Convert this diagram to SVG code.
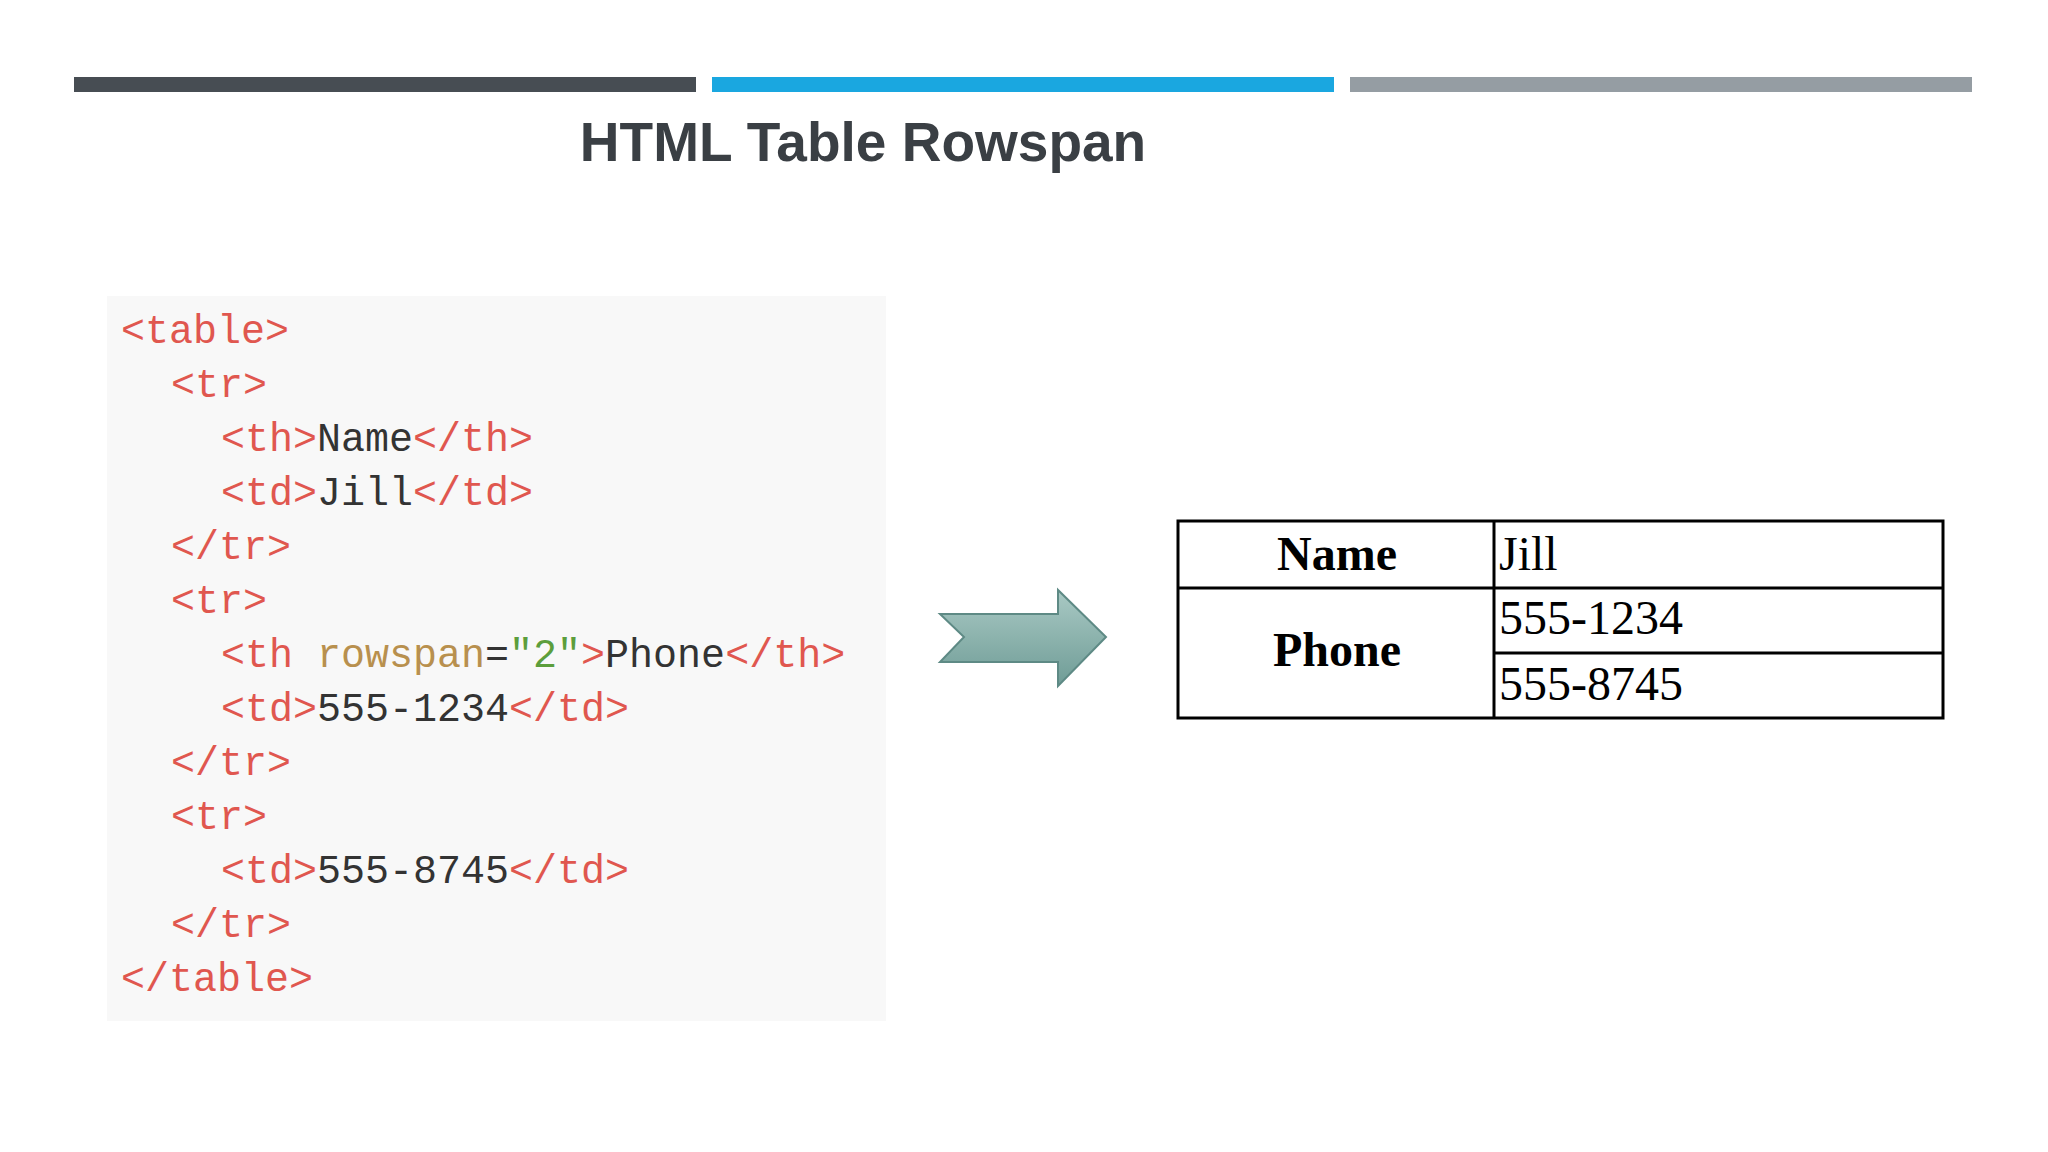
<svg xmlns="http://www.w3.org/2000/svg" width="2048" height="1152" viewBox="0 0 2048 1152">
<defs>
<style>
.c{font-family:"Liberation Mono","DejaVu Sans Mono",monospace;font-size:40px;fill:#333}
.t{fill:#e0574f}.a{fill:#b8904e}.v{fill:#5c9e3c}
.s{font-family:"Liberation Serif",serif;font-size:48px;fill:#000}
.b{font-weight:bold;text-anchor:middle}
</style>
<linearGradient id="g" x1="0" y1="0" x2="0" y2="1"><stop offset="0" stop-color="#a9c9c4"/><stop offset="1" stop-color="#6f9c96"/></linearGradient>
</defs>
<rect width="2048" height="1152" fill="#fff"/>
<rect x="74" y="77" width="622" height="15" fill="#474d53"/>
<rect x="712" y="77" width="622" height="15" fill="#1aa7e0"/>
<rect x="1350" y="77" width="622" height="15" fill="#959da3"/>
<text x="863" y="161" text-anchor="middle" font-family="Liberation Sans,Arial,sans-serif" font-weight="bold" font-size="55" fill="#3a3f44">HTML Table Rowspan</text>
<g id="code">
<rect x="107" y="296" width="779" height="725" fill="#f8f8f8"/>
<text class="c" x="121" y="343"><tspan class="t">&lt;table&gt;</tspan></text>
<text class="c" x="171" y="397"><tspan class="t">&lt;tr&gt;</tspan></text>
<text class="c" x="221" y="451"><tspan class="t">&lt;th&gt;</tspan>Name<tspan class="t">&lt;/th&gt;</tspan></text>
<text class="c" x="221" y="505"><tspan class="t">&lt;td&gt;</tspan>Jill<tspan class="t">&lt;/td&gt;</tspan></text>
<text class="c" x="171" y="559"><tspan class="t">&lt;/tr&gt;</tspan></text>
<text class="c" x="171" y="613"><tspan class="t">&lt;tr&gt;</tspan></text>
<text class="c" x="221" y="667"><tspan class="t">&lt;th </tspan><tspan class="a">rowspan</tspan>=<tspan class="v">"2"</tspan><tspan class="t">&gt;</tspan>Phone<tspan class="t">&lt;/th&gt;</tspan></text>
<text class="c" x="221" y="721"><tspan class="t">&lt;td&gt;</tspan>555-1234<tspan class="t">&lt;/td&gt;</tspan></text>
<text class="c" x="171" y="775"><tspan class="t">&lt;/tr&gt;</tspan></text>
<text class="c" x="171" y="829"><tspan class="t">&lt;tr&gt;</tspan></text>
<text class="c" x="221" y="883"><tspan class="t">&lt;td&gt;</tspan>555-8745<tspan class="t">&lt;/td&gt;</tspan></text>
<text class="c" x="171" y="937"><tspan class="t">&lt;/tr&gt;</tspan></text>
<text class="c" x="121" y="991"><tspan class="t">&lt;/table&gt;</tspan></text>
</g>
<g id="arrow">
<polygon points="940,614 1058,614 1058,590 1106,637 1058,686 1058,662 940,662 964,637" fill="url(#g)" stroke="#5e8a85" stroke-width="2"/>
</g>
<g id="table">
<rect x="1178" y="521" width="765" height="197" fill="#fff" stroke="#000" stroke-width="3"/>
<line x1="1494" y1="521" x2="1494" y2="718" stroke="#000" stroke-width="3"/>
<line x1="1178" y1="588" x2="1943" y2="588" stroke="#000" stroke-width="3"/>
<line x1="1494" y1="653" x2="1943" y2="653" stroke="#000" stroke-width="3"/>
<text class="s b" x="1337" y="570">Name</text>
<text class="s b" x="1337" y="666">Phone</text>
<text class="s" x="1499" y="570">Jill</text>
<text class="s" x="1499" y="634">555-1234</text>
<text class="s" x="1499" y="700">555-8745</text>
</g>
</svg>
